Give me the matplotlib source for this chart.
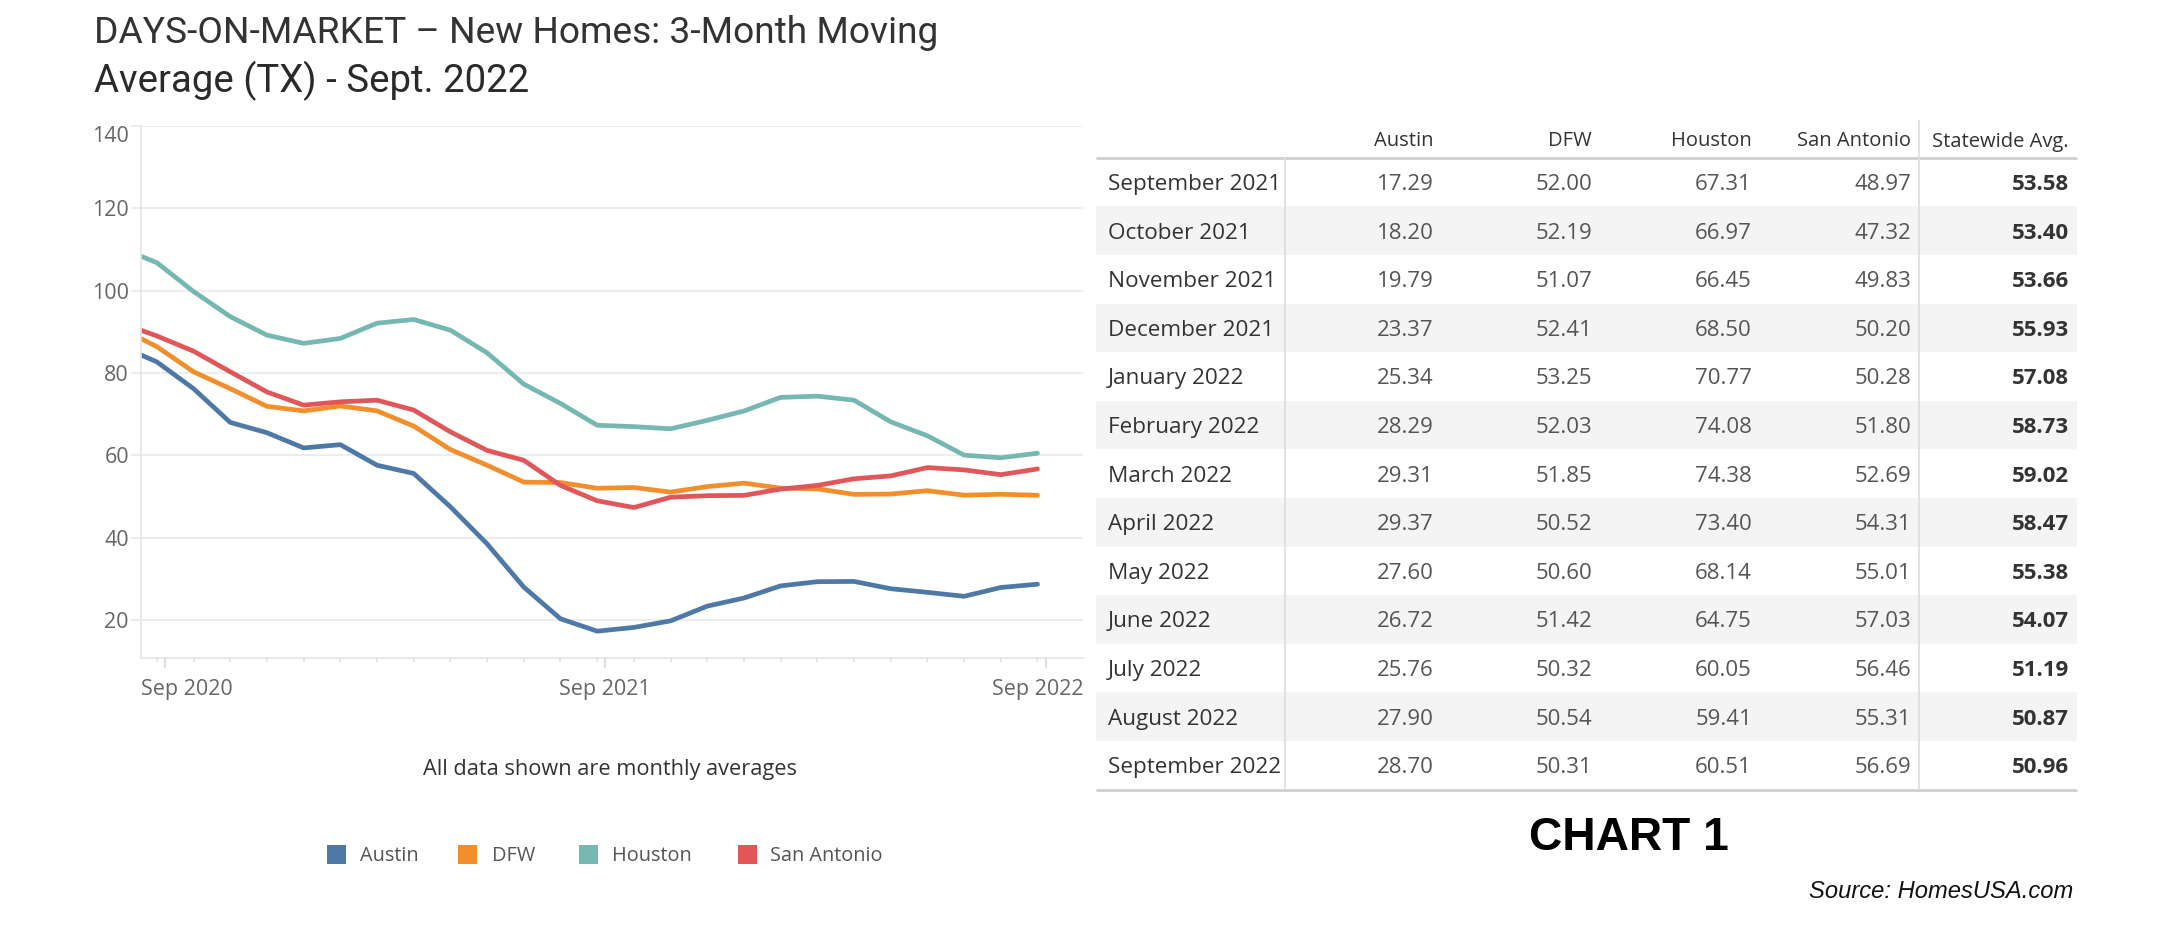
import matplotlib
matplotlib.use('Agg')
import matplotlib.pyplot as plt
import numpy as np
from matplotlib.patches import Rectangle
from matplotlib import font_manager

# ---------------- data ----------------
months = ['Aug 2020', 'Sep 2020', 'Oct 2020', 'Nov 2020', 'Dec 2020', 'Jan 2021',
          'Feb 2021', 'Mar 2021', 'Apr 2021', 'May 2021', 'Jun 2021', 'Jul 2021',
          'Aug 2021', 'Sep 2021', 'Oct 2021', 'Nov 2021', 'Dec 2021', 'Jan 2022',
          'Feb 2022', 'Mar 2022', 'Apr 2022', 'May 2022', 'Jun 2022', 'Jul 2022',
          'Aug 2022', 'Sep 2022']

# values (Aug 2020 - Aug 2021)
austin_early = [86.6, 82.7, 76.2, 68.0, 65.5, 61.8, 62.6, 57.6, 55.6, 47.5, 38.5, 28.0, 20.3]
dfw_early = [90.9, 86.4, 80.3, 76.2, 71.9, 70.8, 72.0, 70.8, 67.1, 61.4, 57.6, 53.5, 53.4]
houston_early = [110.4, 106.8, 99.8, 93.7, 89.2, 87.2, 88.4, 92.1, 93.0, 90.4, 84.9, 77.3, 72.6]
san_antonio_early = [92.2, 89.0, 85.3, 80.3, 75.4, 72.2, 73.0, 73.4, 71.0, 65.7, 61.2, 58.8, 52.7]

# table values (Sep 2021 - Sep 2022)
table_months = ['September 2021', 'October 2021', 'November 2021', 'December 2021',
                'January 2022', 'February 2022', 'March 2022', 'April 2022', 'May 2022',
                'June 2022', 'July 2022', 'August 2022', 'September 2022']
table_austin = [17.29, 18.20, 19.79, 23.37, 25.34, 28.29, 29.31, 29.37, 27.60, 26.72, 25.76, 27.90, 28.70]
table_dfw = [52.00, 52.19, 51.07, 52.41, 53.25, 52.03, 51.85, 50.52, 50.60, 51.42, 50.32, 50.54, 50.31]
table_houston = [67.31, 66.97, 66.45, 68.50, 70.77, 74.08, 74.38, 73.40, 68.14, 64.75, 60.05, 59.41, 60.51]
table_san_antonio = [48.97, 47.32, 49.83, 50.20, 50.28, 51.80, 52.69, 54.31, 55.01, 57.03, 56.46, 55.31, 56.69]
table_statewide = [53.58, 53.40, 53.66, 55.93, 57.08, 58.73, 59.02, 58.47, 55.38, 54.07, 51.19, 50.87, 50.96]

series_names = ['Austin', 'DFW', 'Houston', 'San Antonio']
table_headers = ['Austin', 'DFW', 'Houston', 'San Antonio', 'Statewide Avg.']
colors = ['#4e79a7', '#f28e2b', '#76b7b2', '#e15759']
yticks = [20, 40, 60, 80, 100, 120, 140]
xlabels = ['Sep 2020', 'Sep 2021', 'Sep 2022']

series_vals = [austin_early + table_austin, dfw_early + table_dfw,
               houston_early + table_houston, san_antonio_early + table_san_antonio]
table_cols = [table_austin, table_dfw, table_houston, table_san_antonio, table_statewide]

# ---------------- style ----------------
plt.rcParams['font.family'] = ['Open Sans', 'DejaVu Sans']
names = {f.name for f in font_manager.fontManager.ttflist}
title_font = 'Liberation Sans Narrow' if 'Liberation Sans Narrow' in names else 'Roboto'

W, H = 2160, 936
fig = plt.figure(figsize=(21.6, 9.36), dpi=100)
fig.patch.set_facecolor('white')


def fx(p):
    return p / W


def fy(p):
    return 1 - p / H


# ---------------- line chart ----------------
L, R, T, B = 140.7, 1083.0, 126.0, 658.3
ax = fig.add_axes([fx(L), fy(B), fx(R) - fx(L), fy(T) - fy(B)])
ax.set_facecolor('none')
x = np.arange(len(months))
for name, vals, col in zip(series_names, series_vals, colors):
    ax.plot(x, vals, color=col, lw=3.4, solid_capstyle='round', solid_joinstyle='round', label=name)

ax.set_yticks(yticks)
ax.set_yticklabels([str(v) for v in yticks])
ax.yaxis.grid(True, color='#ececec', lw=1.3)
ax.set_axisbelow(True)
ax.tick_params(axis='y', length=7, color='#ececec', width=1.3, pad=1.5, labelsize=15.5,
               labelcolor='#666666')
for s in ['top', 'right']:
    ax.spines[s].set_visible(False)
for s in ['left', 'bottom']:
    ax.spines[s].set_color('#e4e4e4')
    ax.spines[s].set_linewidth(1.2)
ax.yaxis.get_major_ticks()[-1].label1.set_verticalalignment('top')

major_x = [1.23, 13.22, 25.23]
ax.set_xticks(major_x)
ax.set_xticklabels(['', '', ''])
ax.set_xticks(x[1:], minor=True)
ax.tick_params(axis='x', which='major', length=7, color='#d8d8d8', width=1.2)
ax.tick_params(axis='x', which='minor', length=3, color='#e0e0e0', width=1.2)
ax.set_xlim(0.56, 26.24)
ax.set_ylim(10.7, 140)

lab_y = -(690 - B) / (B - T)
ax.text(0.0, lab_y, xlabels[0], transform=ax.transAxes, ha='left', va='center',
        fontsize=15.5, color='#666666')
ax.text(major_x[1], lab_y, xlabels[1], transform=ax.get_xaxis_transform(), ha='center',
        va='center', fontsize=15.5, color='#666666')
ax.text(1.0, lab_y, xlabels[2], transform=ax.transAxes, ha='right', va='center',
        fontsize=15.5, color='#666666')

# ---------------- overlay (pixel coords) ----------------
ov = fig.add_axes([0, 0, 1, 1], zorder=5)
ov.set_xlim(0, W)
ov.set_ylim(H, 0)
ov.axis('off')

renderer = fig.canvas.get_renderer()


def fit(t, w):
    bb = t.get_window_extent(renderer=renderer)
    t.set_fontsize(t.get_fontsize() * w / bb.width)
    return t.get_fontsize()


t1 = ov.text(94, 43, 'DAYS-ON-MARKET – New Homes: 3-Month Moving', ha='left', va='baseline',
             fontsize=28, family=title_font, color='#333333')
fit(t1, 842)
t2 = ov.text(94, 92, 'Average (TX) - Sept. 2022', ha='left', va='baseline', fontsize=28,
             family=title_font, color='#2a2a2a')
fit(t2, 435)

st = ov.text(610, 770, 'All data shown are monthly averages', ha='center', va='center',
             fontsize=15, color='#333333')
fit(st, 374)

# legend
sq_x = [327, 458, 579, 738]
tx_x = [360, 492, 612, 770]
for name, col, sx, tx in zip(series_names, colors, sq_x, tx_x):
    ov.add_patch(Rectangle((sx, 845), 19, 19, facecolor=col, edgecolor='none'))
    ov.text(tx, 856, name, ha='left', va='center', fontsize=14.3, color='#555555')

# ---------------- table ----------------
tl, tr = 1096, 2077
row_y0, row_h = 182.0, 48.6
head_y = 139
col_right = [1434, 1592, 1752, 1911, 2069]
n = len(table_months)
top_line = row_y0 - row_h / 2
bot_line = row_y0 + row_h * (n - 1) + row_h / 2
dy = 2.5
for i in range(n):
    yc = row_y0 + row_h * i
    if i % 2 == 1:
        ov.add_patch(Rectangle((tl, yc - row_h / 2), tr - tl, row_h, facecolor='#f4f4f4',
                               edgecolor='none'))
ov.hlines([top_line], tl, tr, color='#cfcfcf', lw=2)
ov.hlines([bot_line], tl, tr, color='#cfcfcf', lw=2)
ov.vlines([1284.5], top_line, bot_line, color='#dedede', lw=1.3)
ov.vlines([1919], 120, bot_line, color='#dedede', lw=1.3)

for h, cx in zip(table_headers, col_right):
    ov.text(cx, head_y + dy, h, ha='right', va='center', fontsize=14.5, color='#333333')

for i, m in enumerate(table_months):
    yc = row_y0 + row_h * i + dy
    ov.text(1108, yc, m, ha='left', va='center', fontsize=16.2, color='#333333')
    for j, (col, cx) in enumerate(zip(table_cols, col_right)):
        if j == 4:
            ov.text(cx, yc, f'{col[i]:.2f}', ha='right', va='center', fontsize=16,
                    color='#333333', weight='bold')
        else:
            ov.text(cx, yc, f'{col[i]:.2f}', ha='right', va='center', fontsize=16,
                    color='#555555')

c1 = ov.text(1629, 838, 'CHART 1', ha='center', va='center', fontsize=33, weight='bold',
             family='Liberation Sans', color='black')
fit(c1, 200)
src = ov.text(2073, 891, 'Source: HomesUSA.com', ha='right', va='center', fontsize=17,
              style='italic', family='Liberation Sans', color='#111111')
fit(src, 264)

fig.savefig('out.png', dpi=100, facecolor='white')
